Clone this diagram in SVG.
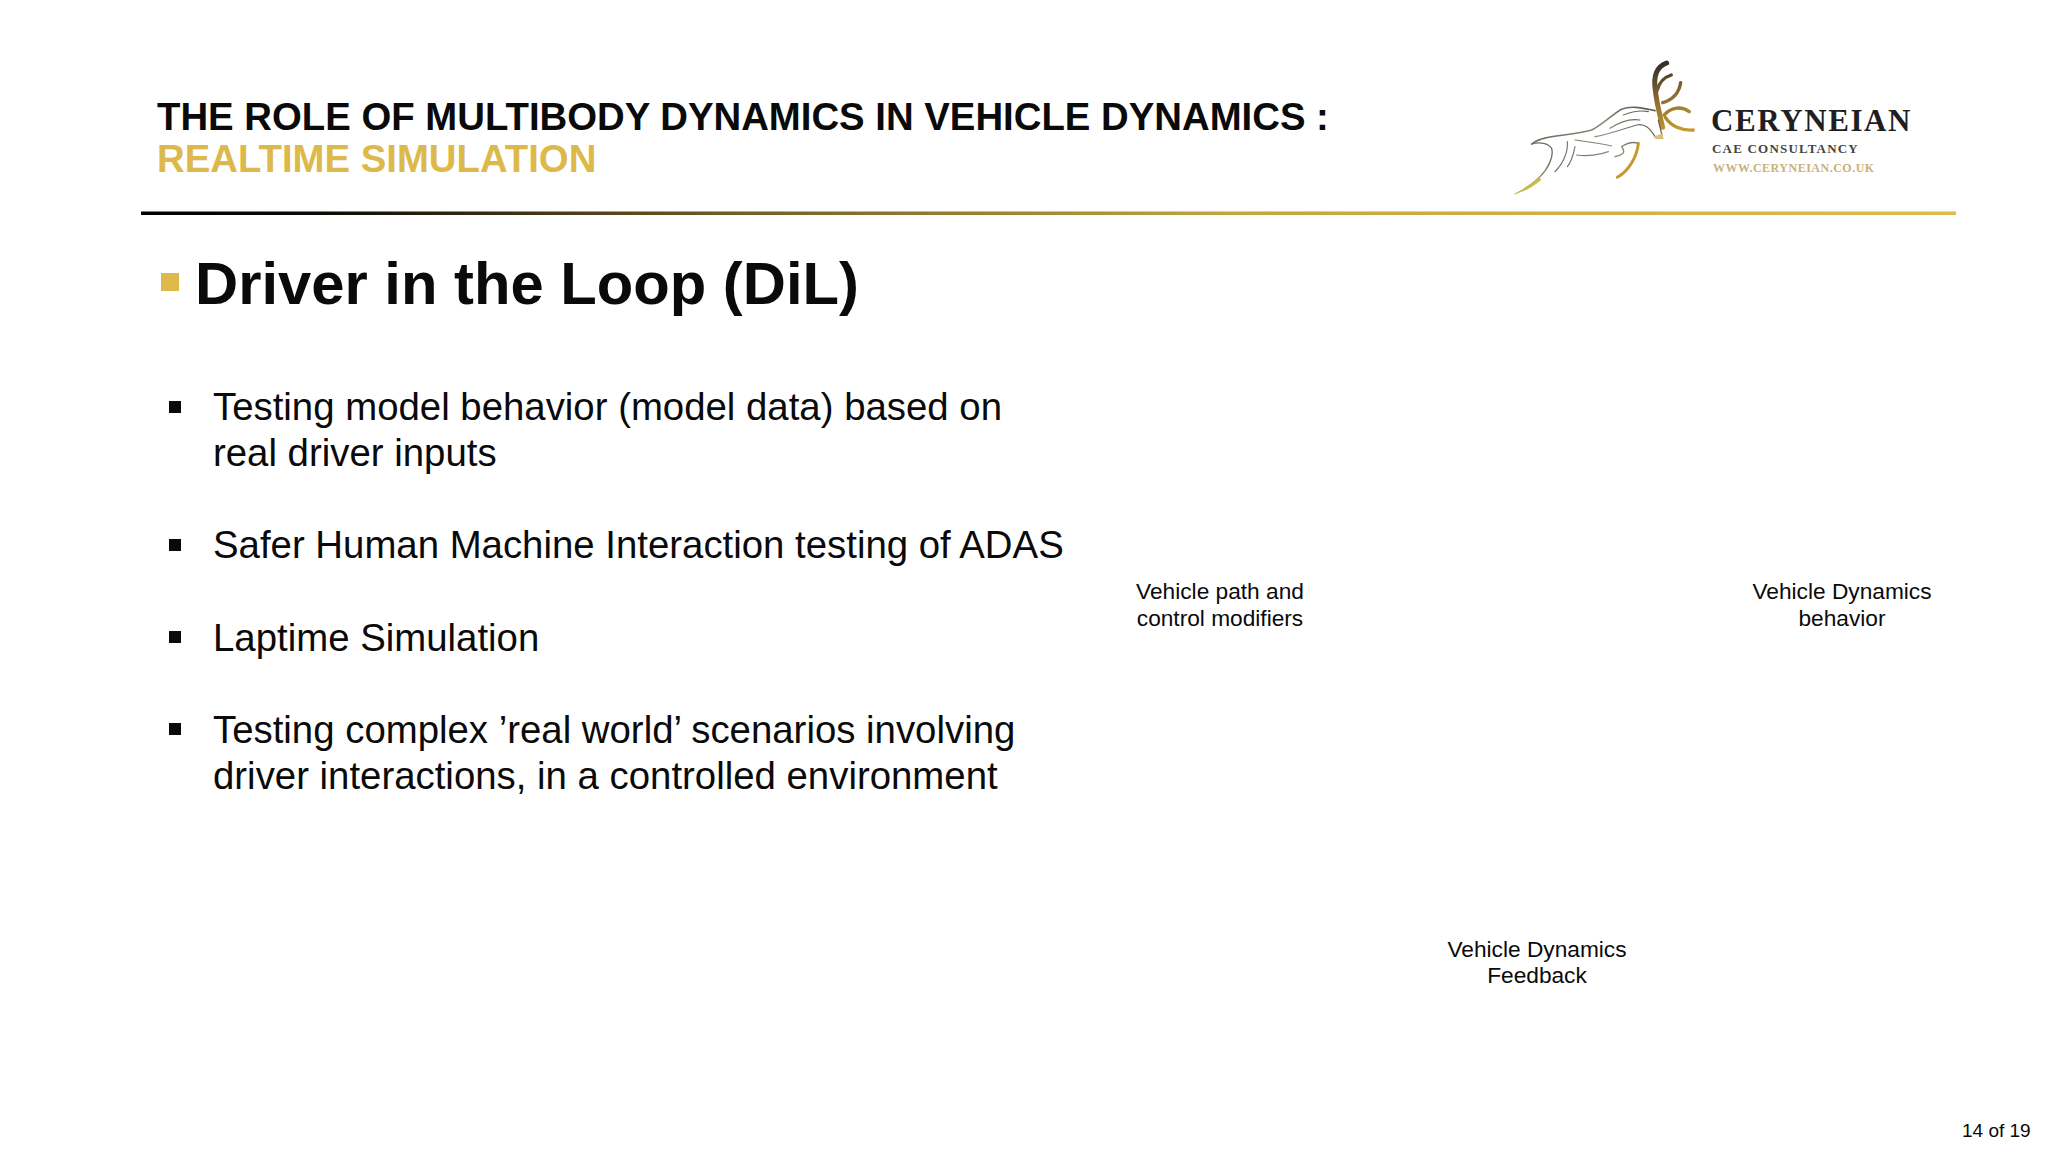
<svg xmlns="http://www.w3.org/2000/svg" width="2048" height="1152" viewBox="0 0 2048 1152">
<defs>
<linearGradient id="g" x1="0" x2="1" y1="0" y2="0"><stop offset="0" stop-color="#000"/><stop offset="0.1" stop-color="#0c0a04"/><stop offset="0.32" stop-color="#6f5c25"/><stop offset="0.6" stop-color="#c4a53f"/><stop offset="1" stop-color="#dfbb4a"/></linearGradient>
<linearGradient id="ant" gradientUnits="userSpaceOnUse" x1="530" y1="70" x2="590" y2="270"><stop offset="0" stop-color="#2e2c28"/><stop offset="0.5" stop-color="#8a6c30"/><stop offset="1" stop-color="#c49a2e"/></linearGradient>
<linearGradient id="body" gradientUnits="userSpaceOnUse" x1="105" y1="460" x2="500" y2="200"><stop offset="0" stop-color="#d2bd50"/><stop offset="0.3" stop-color="#6d6a60"/><stop offset="0.7" stop-color="#8f8a7c"/><stop offset="1" stop-color="#5e5a50"/></linearGradient>
<filter id="soft" x="-5%" y="-5%" width="110%" height="110%"><feGaussianBlur stdDeviation="1.2"/></filter>
</defs>
<style>text{font-family:"Liberation Sans",Arial,sans-serif;fill:#0a0a0a}.t{font-size:38.35px;font-weight:700}.b{font-size:38.37px}.l{font-size:22.7px;text-anchor:middle}.s{font-family:"Liberation Serif",serif;font-weight:700}.st{fill:none;stroke:url(#body);stroke-linecap:round;stroke-linejoin:round}.an{fill:none;stroke:url(#ant);stroke-linecap:round;stroke-linejoin:round}</style>
<rect width="2048" height="1152" fill="#fff"/>
<text class="t" x="157" y="130">THE ROLE OF MULTIBODY DYNAMICS IN VEHICLE DYNAMICS :</text>
<text class="t" x="157" y="172" style="fill:#dcb94a">REALTIME SIMULATION</text>
<rect x="141" y="211.500" width="1815" height="3.500" fill="url(#g)"/>
<g id="logo">
<g transform="translate(1480 40) scale(.3333)" filter="url(#soft)">
<path class="an" stroke-width="15" d="M548 262C540 225 530 190 526 150C520 110 530 80 560 69"/>
<path class="an" stroke-width="10" d="M532 150C538 125 552 112 574 105"/>
<path class="an" stroke-width="10" d="M548 188C575 180 597 160 602 128"/>
<path class="an" stroke-width="10" d="M552 225C570 205 600 195 628 215"/>
<path class="an" stroke-width="10" d="M556 232C572 258 605 272 640 270"/>
<path class="st" stroke-width="5" d="M525 212C490 205 455 195 425 208C395 225 365 255 335 270C285 285 220 285 185 297C170 302 160 307 155 312"/>
<path class="st" stroke-width="4" d="M155 312C180 305 205 310 215 325C222 350 205 385 180 410C155 435 130 450 105 462"/>
<path class="st" stroke-width="3.500" d="M262 305C265 335 250 370 225 395M285 320C280 345 275 365 262 380"/>
<path class="st" stroke-width="3.500" d="M285 300C320 305 360 310 395 318M290 345C320 350 360 345 385 335"/>
<path class="st" stroke-width="3.500" d="M345 290C380 285 420 270 470 255C495 250 510 265 525 290L548 295L535 240"/>
<path class="st" stroke-width="3.500" d="M390 265C420 245 450 235 480 240M430 225C455 215 480 210 505 215"/>
<path class="st" stroke-width="4" d="M405 350C425 345 440 340 425 320C440 310 460 305 475 310"/>
<path class="an" stroke-width="9" d="M475 310C472 345 450 390 412 412"/>
<path d="M105 462C130 450 150 435 178 412L184 420C160 440 135 455 105 462Z" fill="#cdbb4a"/>
<path d="M520 290L548 280L550 296L528 298Z" fill="#d8c080"/>
</g>
<text class="s" x="1711" y="131" style="font-size:31px;letter-spacing:1.6px;fill:#1f1f1f">CERYNEIAN</text>
<text class="s" x="1712" y="153" style="font-size:13px;letter-spacing:1.2px;fill:#444">CAE CONSULTANCY</text>
<text class="s" x="1713" y="172" style="font-size:12px;letter-spacing:.5px;fill:#c8b27a">WWW.CERYNEIAN.CO.UK</text>
</g>
<rect x="161" y="273" width="18" height="18" fill="#dcb94a"/>
<text x="195" y="303.500" style="font-size:59.75px;font-weight:700">Driver in the Loop (DiL)</text>
<g fill="#0a0a0a"><rect x="169" y="401" width="12" height="12"/><rect x="169" y="539" width="12" height="12"/><rect x="169" y="631" width="12" height="12"/><rect x="169" y="723" width="12" height="12"/></g>
<text class="b" x="213" y="420">Testing model behavior (model data) based on</text>
<text class="b" x="213" y="466">real driver inputs</text>
<text class="b" x="213" y="558">Safer Human Machine Interaction testing of ADAS</text>
<text class="b" x="213" y="650.500">Laptime Simulation</text>
<text class="b" x="213" y="743">Testing complex ’real world’ scenarios involving</text>
<text class="b" x="213" y="789">driver interactions, in a controlled environment</text>
<g id="n1"><text class="l" x="1220" y="598.500">Vehicle path and</text><text class="l" x="1220" y="625.500">control modifiers</text></g>
<g id="n2"><text class="l" x="1842" y="598.500">Vehicle Dynamics</text><text class="l" x="1842" y="625.500">behavior</text></g>
<g id="n3"><text class="l" x="1537" y="956.500">Vehicle Dynamics</text><text class="l" x="1537" y="983">Feedback</text></g>
<g id="connectors"/>
<text x="1962" y="1137" style="font-size:19px">14 of 19</text>
</svg>
